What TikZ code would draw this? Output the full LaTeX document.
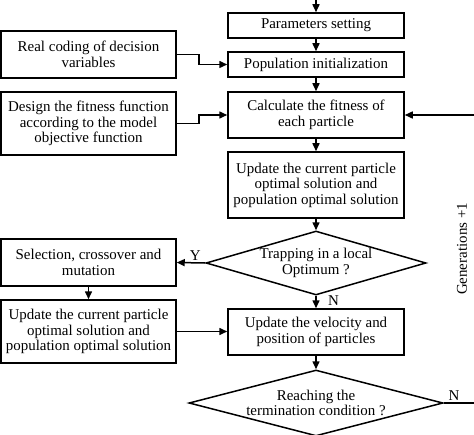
\documentclass[tikz,border=0pt]{standalone}
\usepackage{fontspec}
\setmainfont{Liberation Serif}
\usetikzlibrary{arrows.meta,shapes.geometric}

\begin{document}
\begin{tikzpicture}[x=1bp,y=-1bp,
    font=\fontsize{15}{15.5}\selectfont,
    box/.style={draw, line width=1.5bp, align=center, minimum width=176bp, inner sep=0pt},
    dec/.style={draw, line width=1.5bp, diamond, align=center, inner sep=0pt},
    arr/.style={line width=1.5bp, -{Triangle[length=8bp,width=7bp]}}]
    \useasboundingbox (0,0) rectangle (474,435);

    % Hauptstrang
    \node[box, minimum height=25bp] (params) at (316,25.5) {Parameters setting};
    \node[box, minimum height=25bp] (init) at (316,64.5) {Population initialization};
    \node[box, minimum height=46bp] (fitness) at (316,115) {Calculate the fitness of\\each particle};
    \node[box, minimum height=66bp] (update) at (316,185) {Update the current particle\\optimal solution and\\population optimal solution};
    \node[dec, aspect=3.4, minimum width=220bp, minimum height=64bp] (trap) at (316,263) {Trapping in a local\\Optimum ?};
    \node[box, minimum height=46bp] (velocity) at (316,332) {Update the velocity and\\position of particles};
    \node[dec, aspect=3.8, minimum width=254bp, minimum height=66bp] (stop) at (316,403) {Reaching the\\termination condition ?};

    % linke Spalte
    \node[box, minimum width=175bp, minimum height=47bp] (coding) at (88.5,54.5) {Real coding of decision\\variables};
    \node[box, minimum width=175bp, minimum height=63bp] (design) at (88.5,123.5) {Design the fitness function\\according to the model\\objective function};
    \node[box, minimum width=175bp, minimum height=47bp] (select) at (88.5,262.5) {Selection, crossover and\\mutation};
    \node[box, minimum width=175bp, minimum height=63bp] (update2) at (88.5,331.5) {Update the current particle\\optimal solution and\\population optimal solution};

    % Hilfspunkte
    \coordinate (start) at (316,-10);
    \coordinate (end) at (316,450);
    \coordinate (loop) at (490,403);

    % Pfeile
    \draw[arr] (start) -- (params);
    \draw[arr] (params) -- (init);
    \draw[arr] (init) -- (fitness);
    \draw[arr] (fitness) -- (update);
    \draw[arr] (update) -- (trap);
    \draw[arr] (trap) -- node[right, pos=0.4, xshift=8bp] {N} (velocity);
    \draw[arr] (velocity) -- (stop);
    \draw[arr] (stop) -- (end);
    \draw[arr] (coding.east) -- ++(22,0) |- (init.west);
    \draw[arr] (design.east) -- ++(22,0) |- (fitness.west);
    \draw[arr] (trap.west) -- node[above, pos=0.35, yshift=-2bp] {Y} (select.east);
    \draw[arr] (select) -- (update2);
    \draw[arr] (update2.east) -- (velocity.west |- update2.east);
    \draw[arr] (stop.east) -- node[above, pos=0.22, yshift=-2bp] {N} (loop) |- (fitness.east);

    \node[rotate=90] (gen) at (462,249) {Generations +1};
\end{tikzpicture}
\end{document}
